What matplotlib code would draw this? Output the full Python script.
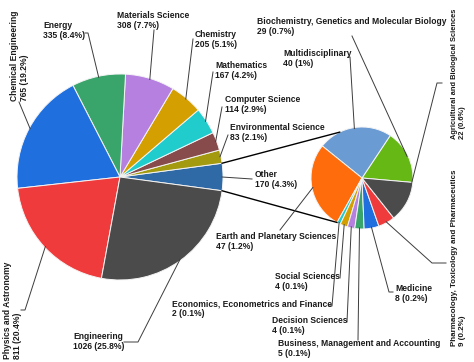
import matplotlib
matplotlib.use("Agg")
import matplotlib.pyplot as plt
import numpy as np

W, H = 474, 362

# main pie, listed counter-clockwise starting with "Other"
main_labels = ["Other", "Environmental Science", "Computer Science", "Mathematics",
               "Chemistry", "Materials Science", "Energy", "Chemical Engineering",
               "Physics and Astronomy", "Engineering"]
main_values = [170, 83, 114, 167, 205, 308, 335, 765, 811, 1026]
main_colors = ["#2f6aa7", "#a49a10", "#874b4b", "#20cccc", "#d49f00",
               "#b680e0", "#3aa56b", "#1f6fdf", "#ef3b3b", "#4b4b4b"]

# second pie ("Other" broken down), counter-clockwise
sub_labels = ["Biochemistry, Genetics and Molecular Biology", "Multidisciplinary",
              "Earth and Planetary Sciences", "Economics, Econometrics and Finance",
              "Social Sciences", "Decision Sciences", "Business, Management and Accounting",
              "Medicine", "Pharmacology, Toxicology and Pharmaceutics",
              "Agricultural and Biological Sciences"]
sub_values = [29, 40, 47, 2, 4, 4, 5, 8, 9, 22]
sub_colors = ["#66b915", "#6a9bd2", "#ff6c0c", "#20cccc", "#d49f00",
              "#b680e0", "#3aa56b", "#1f6fdf", "#ef3b3b", "#4b4b4b"]

total = sum(main_values)

# layout (image pixels, y down)
C1, R1 = (120, 177), 103
C2, R2 = (362, 178), 51
start1 = -main_values[0] / total * 360 / 2
start2 = -5
FS = 6.15

# text (x, y, rotated, size): left/top corner, or left/bottom when rotated
main_text = [(255, 170, False, FS), (230, 123, False, FS), (225, 95, False, FS),
             (215, 61, False, FS), (195, 30, False, FS), (117, 11, False, FS),
             (43, 21, False, FS), (10, 101, True, FS), (3, 359, True, FS),
             (73, 332, False, FS)]
# leader elbow point and a short horizontal tick (dx)
main_elbow = [(252, 179, 0), (228, 135, 0), (222, 107, 0), (213, 72, 0),
              (193, 39, 0), (154, 30, 0), (88, 33, -3), (19, 102, 0),
              (25, 310, -4), (138, 342, -14)]

sub_text = [(257, 17, False, FS), (283, 49, False, FS), (216, 232, False, FS),
            (172, 299, False, FS), (275, 272, False, FS), (272, 316, False, FS),
            (278, 339, False, FS), (395, 284, False, FS), (451, 346, True, 5.75),
            (451, 139, True, 5.4)]
sub_elbow = [(352, 36, 0), (350, 57, -2), (280, 230, 0), (332, 306, -3),
             (340, 278, 0), (347, 322, 0), (358, 340, 0), (389, 292, 4),
             (432, 263, 14), (437, 83, 5)]
sub_frac = [0.5, 0.5, 0.5, 0.5, 0.5, 0.5, 0.5, 0.5, 0.5, 1.0]

link_angles = [116, -119.4]


def pct(v):
    s = "%.1f" % (v / total * 100)
    if s.endswith(".0"):
        s = s[:-2]
    return "%d (%s%%)" % (v, s)


def edge_point(center, r, values, start, i, frac=0.5):
    a = start + (sum(values[:i]) + frac * values[i]) / sum(values) * 360
    a = np.radians(a)
    return center[0] + r * np.cos(a), center[1] - r * np.sin(a)


plt.rcParams['font.family'] = ['Liberation Sans', 'DejaVu Sans']
fig = plt.figure(figsize=(W / 100, H / 100), dpi=100)
ax = fig.add_axes([0, 0, 1, 1])

wp = dict(edgecolor="#f4f4f4", linewidth=0.7)
ax.pie(main_values, colors=main_colors, startangle=start1, radius=R1,
       center=(C1[0], H - C1[1]), wedgeprops=wp)
ax.pie(sub_values, colors=sub_colors, startangle=start2, radius=R2,
       center=(C2[0], H - C2[1]), wedgeprops=wp)

# connector lines between the "Other" slice and the second pie
for a1, a2 in zip([-start1, start1], link_angles):
    p1 = (C1[0] + R1 * np.cos(np.radians(a1)), C1[1] - R1 * np.sin(np.radians(a1)))
    p2 = (C2[0] + R2 * np.cos(np.radians(a2)), C2[1] - R2 * np.sin(np.radians(a2)))
    ax.plot([p1[0], p2[0]], [H - p1[1], H - p2[1]], color="black", lw=1.0)


def label(name, v, pos, elbow, end):
    x, y, rot, fs = pos
    txt = name + "\n" + pct(v)
    if rot:
        ax.text(x, H - y, txt, rotation=90, ha="left", va="bottom",
                fontsize=fs, fontweight="bold", color="#1a1a1a")
    else:
        ax.text(x, H - y, txt, ha="left", va="top",
                fontsize=fs, fontweight="bold", color="#1a1a1a")
    ex, ey, dx = elbow
    xs = [ex + dx, ex, end[0]]
    ys = [H - ey, H - ey, H - end[1]]
    ax.plot(xs, ys, color="#3c3c3c", lw=0.7)


for i, name in enumerate(main_labels):
    end = edge_point(C1, R1 - 1, main_values, start1, i)
    label(name, main_values[i], main_text[i], main_elbow[i], end)

for i, name in enumerate(sub_labels):
    end = edge_point(C2, R2 - 1, sub_values, start2, i, sub_frac[i])
    label(name, sub_values[i], sub_text[i], sub_elbow[i], end)

ax.set_xlim(0, W)
ax.set_ylim(0, H)
ax.set_aspect("equal")
ax.axis("off")

fig.savefig("out.png", dpi=100, facecolor="white")
